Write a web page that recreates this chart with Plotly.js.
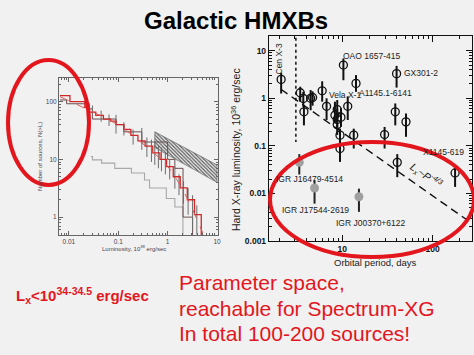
<!DOCTYPE html>
<html>
<head>
<meta charset="utf-8">
<script src="https://cdn.plot.ly/plotly-3.0.1.min.js"></script>
<style>html,body{margin:0;padding:0;background:#f1f1f1;}#chart{width:474px;height:355px;}</style>
</head>
<body>
<div id="chart"></div>
<script>
// ---------- Left panel: cumulative luminosity function ----------
const modelL = [0.0066, 0.021, 0.099, 0.37, 1.01, 2.39, 5.16];
const modelN = [122, 77, 39.5, 16.6, 7.5, 2.27, 0.53];

const redStepL = [0.0066, 0.0105, 0.021, 0.026, 0.035, 0.05, 0.07, 0.09, 0.13, 0.18, 0.25, 0.35, 0.5, 0.7, 0.95, 1.3, 1.8, 2.5, 3.5, 4.8, 4.8];
const redStepN = [127, 100, 80, 66, 58, 50, 46, 40, 33, 26, 21, 17, 13, 10, 7.5, 5.0, 3.2, 2.0, 1.1, 1.0, 0.3];

const darkStepL = [0.0066, 0.009, 0.024, 0.03, 0.09, 0.13, 0.3, 1.0, 1.4, 2.05, 3.2, 3.2];
const darkStepN = [107, 92, 75, 50, 40, 30, 20, 10, 7, 1, 1, 0.3];

const lowStepL = [0.0278, 0.03, 0.046, 0.085, 0.185, 0.34, 0.43, 0.94, 1.4, 2.04, 2.04];
const lowStepN = [11.2, 9.8, 8.6, 7.0, 5.8, 4.4, 3.2, 2.1, 1.5, 1.0, 0.3];

const errL  = [0.026, 0.03, 0.045, 0.065, 0.09, 0.13, 0.2, 0.3, 0.38, 0.47, 0.55, 0.65, 0.75, 0.9, 1.1, 1.4, 1.7, 2.1, 2.6, 3.2, 3.9];
const errN  = [72, 68, 57, 48, 41, 34, 25, 19.5, 16.3, 14, 12.5, 11, 9.8, 8.3, 6.8, 4.9, 3.7, 2.7, 1.95, 1.3, 0.9];
const errHi = [94, 86, 70, 60, 59, 44, 33, 35, 24, 22, 20, 17, 16, 13, 10, 7.5, 5.5, 4.2, 3.2, 2.4, 1.6];
const errLo = [40, 52, 45, 38, 28, 26, 18, 14.6, 11, 9, 8, 7, 6.2, 5.5, 4.5, 3.1, 2.4, 1.7, 1.1, 0.6, 0.5];

const bandL = [0.55, 10, 10, 0.55, 0.55];
const bandN = [30, 8, 4, 16, 30];

// ---------- Right panel: luminosity vs orbital period ----------
const periodP = [2.11, 3.43, 3.71, 3.77, 4.47, 4.7, 6.0, 6.71, 8.3, 8.8, 8.8, 8.8, 9.68, 9.44, 9.44, 11.5, 10.3, 14.2, 13.4, 39.9, 38.6, 50.7, 29.4, 40.6, 177];
const lumL    = [2.5, 1.31, 0.99, 0.52, 1.0, 1.04, 1.44, 0.68, 0.44, 0.58, 0.36, 0.28, 0.40, 0.168, 0.088, 0.68, 5.0, 2.06, 0.168, 3.3, 0.52, 0.32, 0.173, 0.045, 0.027];
const lumHi   = [3.44, 1.75, 1.37, 0.72, 1.49, 1.4, 2.28, 1.0, 0.85, 0.92, 0.6, 0.45, 0.62, 0.23, 0.13, 1.1, 6.9, 3.08, 0.23, 4.8, 0.78, 0.48, 0.25, 0.067, 0.039];
const lumLo   = [1.26, 0.85, 0.66, 0.27, 0.56, 0.7, 0.85, 0.35, 0.3, 0.38, 0.22, 0.17, 0.25, 0.103, 0.046, 0.35, 2.4, 1.37, 0.088, 1.68, 0.27, 0.155, 0.088, 0.022, 0.0137];

const sgP  = [3.35, 4.94, 15.3];
const sgL  = [0.045, 0.013, 0.0085];
const sgHi = [0.067, 0.019, 0.0126];
const sgLo = [0.025, 0.0061, 0.0041];

const fitP = [2.1, 285];
const fitL = [1.55, 0.0022];
const cutP = [3.07, 3.07];
const cutL = [25, 0.12];

const W = 474, H = 355;
const px = x => x / W;
const py = y => 1 - y / H;

function minorTicks(lo, hi) {
  const v = [];
  for (let e = lo; e <= hi; e++) for (let m = 2; m <= 9; m++) v.push(m * Math.pow(10, e));
  return v;
}

const RED = '#e3161d';
const narrow = 'Liberation Sans Narrow, Liberation Sans, Arial, sans-serif';

const traces = [
  {x: bandL, y: bandN, xaxis: 'x', yaxis: 'y', mode: 'lines', fill: 'toself',
   fillcolor: 'rgba(0,0,0,0)', fillpattern: {shape: '\\', size: 2.5, solidity: 0.45, fgcolor: '#555', bgcolor: 'rgba(0,0,0,0)'},
   line: {color: '#666', width: 0.7}, hoverinfo: 'skip'},
  {x: lowStepL, y: lowStepN, xaxis: 'x', yaxis: 'y', mode: 'lines', line: {shape: 'hv', color: '#a8a8a8', width: 1.1}},
  {x: darkStepL, y: darkStepN, xaxis: 'x', yaxis: 'y', mode: 'lines', line: {shape: 'hv', color: '#6a5050', width: 1}},
  {x: errL, y: errN, xaxis: 'x', yaxis: 'y', mode: 'markers', marker: {size: 1, color: 'rgba(0,0,0,0)'},
   error_y: {type: 'data', symmetric: false, array: errHi.map((h, i) => h - errN[i]), arrayminus: errLo.map((l, i) => errN[i] - l), color: '#6d6d6d', thickness: 1, width: 0}},
  {x: redStepL, y: redStepN, xaxis: 'x', yaxis: 'y', mode: 'lines', line: {shape: 'hv', color: '#d02828', width: 1.3}},
  {x: modelL, y: modelN, xaxis: 'x', yaxis: 'y', mode: 'lines', line: {shape: 'spline', color: '#d85a5a', width: 1, dash: 'dash'}},

  {x: fitP, y: fitL, xaxis: 'x2', yaxis: 'y2', mode: 'lines', line: {color: '#111', width: 1.4, dash: '8px,5px'}},
  {x: cutP, y: cutL, xaxis: 'x2', yaxis: 'y2', mode: 'lines', line: {color: '#111', width: 1.5, dash: 'dot'}},
  {x: sgP, y: sgL, xaxis: 'x2', yaxis: 'y2', mode: 'markers', marker: {symbol: 'circle', size: 9, color: '#a0a0a0'},
   error_y: {type: 'data', symmetric: false, array: sgHi.map((h, i) => h - sgL[i]), arrayminus: sgLo.map((l, i) => sgL[i] - l), color: '#222', thickness: 2, width: 0}},
  {x: periodP, y: lumL, xaxis: 'x2', yaxis: 'y2', mode: 'markers',
   marker: {symbol: 'circle-open', size: 8, color: '#111', line: {width: 1.3, color: '#111'}},
   error_y: {type: 'data', symmetric: false, array: lumHi.map((h, i) => h - lumL[i]), arrayminus: lumLo.map((l, i) => lumL[i] - l), color: '#111', thickness: 2, width: 0}}
];

const ann = (text, x, y, o) => Object.assign({text: text, x: px(x), y: py(y), xref: 'paper', yref: 'paper', showarrow: false,
  xanchor: 'left', yanchor: 'middle', font: {family: narrow, size: 8.5, color: '#222'}}, o || {});

const annotations = [
  ann('<b>Galactic HMXBs</b>', 236, 20, {xanchor: 'center', font: {family: 'Liberation Sans, Arial, sans-serif', size: 24, color: '#000'}}),
  ann('<b>L<sub>x</sub>&lt;10<sup>34-34.5</sup> erg/sec</b>', 14, 295, {font: {family: 'Liberation Sans, Arial, sans-serif', size: 15, color: RED}}),
  ann('Parameter space,', 177, 282, {font: {family: 'Liberation Sans, Arial, sans-serif', size: 21, color: RED}}),
  ann('reachable for Spectrum-XG', 177, 308, {font: {family: 'Liberation Sans, Arial, sans-serif', size: 21, color: RED}}),
  ann('In total 100-200 sources!', 177, 333, {font: {family: 'Liberation Sans, Arial, sans-serif', size: 21, color: RED}}),

  ann('Luminosity, 10<sup>38</sup> erg/sec', 134, 248, {xanchor: 'center', font: {family: narrow, size: 6, color: '#445'}}),
  ann('Number of sources, N(&gt;L)', 40, 157, {xanchor: 'center', textangle: -90, font: {family: narrow, size: 6, color: '#445'}}),

  ann('Hard X-ray luminosity, 10<sup>36</sup> erg/sec', 235, 150, {xanchor: 'center', textangle: -90, font: {family: 'Liberation Sans, Arial, sans-serif', size: 10.5, color: '#222'}}),
  ann('Orbital period, days', 375, 262, {xanchor: 'center', font: {family: 'Liberation Sans, Arial, sans-serif', size: 9.5, color: '#222'}}),

  ann('Cen X-3', 278.5, 59, {xanchor: 'center', textangle: -90}),
  ann('OAO 1657-415', 341, 56),
  ann('GX301-2', 402, 73),
  ann('Vela X-1', 327, 95),
  ann('A1145.1-6141', 357, 93),
  ann('X1145-619', 421, 152),
  ann('IGR J16479-4514', 274, 179),
  ann('IGR J17544-2619', 280, 210),
  ann('IGR J00370+6122', 334, 223),
  ann('<i>L<sub>x</sub>~P<sup>-4/3</sup></i>', 426, 176, {xanchor: 'center', textangle: 35, font: {family: 'Liberation Sans, Arial, sans-serif', size: 10.5, color: '#222'}})
];

const shapes = [
  {type: 'circle', xref: 'paper', yref: 'paper', x0: px(8), x1: px(89), y0: py(185), y1: py(60), line: {color: RED, width: 4}},
  {type: 'circle', xref: 'paper', yref: 'paper', x0: px(270), x1: px(474), y0: py(257), y1: py(142), line: {color: RED, width: 4}}
];

const layout = {
  width: W, height: H, margin: {l: 0, r: 0, t: 0, b: 0},
  paper_bgcolor: '#f1f1f1', plot_bgcolor: '#f1f1f1', showlegend: false,
  xaxis: {domain: [px(59), px(218)], type: 'log', range: [-2.2, 1.02], anchor: 'y',
    tickvals: [0.01, 0.1, 1, 10], ticktext: ['0.01', '0.1', '1', '10'],
    ticks: 'inside', ticklen: 4, tickcolor: '#666', showline: true, linecolor: '#666', linewidth: 1, mirror: 'allticks',
    minor: {ticks: 'inside', ticklen: 2, tickcolor: '#666', tickvals: minorTicks(-3, 1)},
    showgrid: false, zeroline: false, tickfont: {family: narrow, size: 6.5, color: '#445'}},
  yaxis: {domain: [py(235), py(78)], type: 'log', range: [-0.31, 2.41], anchor: 'x',
    tickvals: [1, 10, 100], ticktext: ['1', '10', '100'],
    ticks: 'inside', ticklen: 4, tickcolor: '#666', showline: true, linecolor: '#666', linewidth: 1, mirror: 'allticks',
    minor: {ticks: 'inside', ticklen: 2, tickcolor: '#666', tickvals: minorTicks(-1, 2)},
    showgrid: false, zeroline: false, tickfont: {family: narrow, size: 6.5, color: '#445'}},
  xaxis2: {domain: [px(269), px(472)], type: 'log', range: [0.19, 2.435], anchor: 'y2',
    tickvals: [10, 100], ticktext: ['10', '100'],
    ticks: 'inside', ticklen: 6, tickcolor: '#111', showline: true, linecolor: '#111', linewidth: 1.2, mirror: 'allticks',
    minor: {ticks: 'inside', ticklen: 3, tickcolor: '#111', tickvals: minorTicks(0, 2)},
    showgrid: false, zeroline: false, tickfont: {family: 'Liberation Sans, Arial, sans-serif', size: 8.5, color: '#111', weight: 'bold'}},
  yaxis2: {domain: [py(241), py(36)], type: 'log', range: [-3, 1.31], anchor: 'x2',
    tickvals: [0.001, 0.01, 0.1, 1, 10], ticktext: ['0.001', '0.01', '0.1', '1', '10'],
    ticks: 'inside', ticklen: 6, tickcolor: '#111', showline: true, linecolor: '#111', linewidth: 1.2, mirror: 'allticks',
    minor: {ticks: 'inside', ticklen: 3, tickcolor: '#111', tickvals: minorTicks(-3, 1)},
    showgrid: false, zeroline: false, tickfont: {family: 'Liberation Sans, Arial, sans-serif', size: 8.5, color: '#111', weight: 'bold'}},
  annotations: annotations,
  shapes: shapes
};

Plotly.newPlot('chart', traces, layout, {staticPlot: true, displayModeBar: false});
</script>
</body>
</html>
